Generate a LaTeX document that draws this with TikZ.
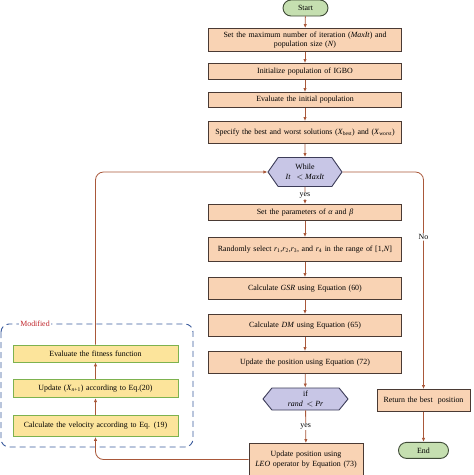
\documentclass[tikz,border=0pt]{standalone}
\usepackage{fontspec}
\setmainfont{Liberation Serif}
\usetikzlibrary{positioning, shapes.symbols, arrows.meta}
\definecolor{boxColor}{HTML}{F9D3B4}
\definecolor{boxBorder}{HTML}{4A3A34}
\definecolor{termColor}{HTML}{C5DFB0}
\definecolor{termBorder}{HTML}{3E4A36}
\definecolor{hexColor}{HTML}{C8C6E6}
\definecolor{hexBorder}{HTML}{3C3C58}
\definecolor{modColor}{HTML}{FCE49B}
\definecolor{modBorder}{HTML}{7DB24F}
\definecolor{arrowColor}{HTML}{A9583A}
\definecolor{dashColor}{HTML}{3A5A9C}
\definecolor{labelRed}{HTML}{C0262C}

\begin{document}
\begin{tikzpicture}[
    x=1pt, y=-1pt,
    every node/.style={font=\fontsize{7.9}{9.5}\selectfont},
    procbox/.style={
        rectangle,
        draw=boxBorder,
        fill=boxColor,
        line width=0.9pt,
        inner xsep=2pt,
        inner ysep=1pt,
        text width=189pt,
        align=center,
    },
    modbox/.style={
        rectangle,
        draw=modBorder,
        fill=modColor,
        line width=0.8pt,
        inner xsep=2pt,
        inner ysep=1pt,
        text width=161pt,
        align=center,
    },
    term/.style={
        rectangle,
        rounded corners=8pt,
        draw=termBorder,
        fill=termColor,
        line width=0.9pt,
        minimum height=16pt,
        inner sep=1pt,
    },
    hexbox/.style={
        signal,
        signal to=east and west,
        draw=hexBorder,
        fill=hexColor,
        line width=0.9pt,
        inner sep=1pt,
        align=center,
    },
    rel/.style={
        -{Latex[length=4pt, width=3.4pt]},
        line width=0.8pt,
        color=arrowColor,
    },
    lbl/.style={
        fill=white,
        text=black,
        inner sep=1pt,
    },
]

\useasboundingbox (0,0) rectangle (474,475);

% main column
\node[term, minimum width=45pt] (start) at (305.5,8) {Start};

\node[procbox, minimum height=23pt] (init) at (305,40) {
    Set the maximum number of iteration (\textit{MaxIt}) and\\
    population size (\textit{N})
};

\node[procbox, minimum height=16pt] (igbo) at (305,71.5) {
    Initialize population of IGBO
};

\node[procbox, minimum height=15pt] (evalinit) at (305,100) {
    Evaluate the initial population
};

\node[procbox, minimum height=22pt] (best) at (305,132.5) {
    Specify the best and worst solutions (\textit{X}\textsubscript{best}) and (\textit{X}\textsubscript{worst})
};

\node[hexbox, minimum width=74pt, minimum height=29pt, signal pointer angle=110] (while) at (305,172) {
    While\\
    \textit{It} \ \ $<$ \textit{MaxIt}
};

\node[procbox, minimum height=16pt] (params) at (305,212.5) {
    Set the parameters of \textit{α} and \textit{β}
};

\node[procbox, minimum height=24pt] (rand) at (305,249.5) {
    Randomly select \textit{r}\textsubscript{1},\textit{r}\textsubscript{2},\textit{r}\textsubscript{3}, and \textit{r}\textsubscript{4} in the range of [1,\textit{N}]
};

\node[procbox, minimum height=22pt] (gsr) at (305,288.5) {
    Calculate \textit{GSR} using Equation (60)
};

\node[procbox, minimum height=22pt] (dm) at (305,325.5) {
    Calculate \textit{DM} using Equation (65)
};

\node[procbox, minimum height=22pt] (update) at (305,362.5) {
    Update the position using Equation (72)
};

\node[hexbox, minimum width=85pt, minimum height=22pt, signal pointer angle=102] (ifpr) at (305.5,399) {
    if\\
    \textit{rand} \ $<$ \textit{Pr}
};

\node[procbox, text width=110pt, minimum height=32pt] (leo) at (306,459.5) {
    Update position using\\
    \textit{LEO} operator by Equation (73)
};

% exit column
\node[procbox, text width=89pt, minimum height=22pt] (ret) at (423.5,400.5) {
    Return the best \ position
};

\node[term, minimum width=50pt, below=30pt of ret] (end) {End};

% modified part
\draw[dashColor, line width=0.9pt, dash pattern=on 6pt off 4pt, rounded corners=8pt]
    (1,324) rectangle (193,447);
\node[lbl, text=labelRed] (modlabel) at (35,324) {Modified};

\node[modbox, minimum height=21pt] (velocity) at (95.5,426) {
    Calculate the velocity according to Eq. (19)
};

\node[modbox, minimum height=18pt, above=17pt of velocity] (updx) {
    Update (\textit{X}\textsubscript{\textit{n}+1}) according to Eq.(20)
};

\node[modbox, minimum height=17pt, above=17pt of updx] (fitness) {
    Evaluate the fitness function
};

% connectors
\draw[rel] (start) -- (init);
\draw[rel] (init) -- (igbo);
\draw[rel] (igbo) -- (evalinit);
\draw[rel] (evalinit) -- (best);
\draw[rel] (best) -- (while);
\draw[rel] (while) -- node[lbl] {yes} (params);
\draw[rel] (params) -- (rand);
\draw[rel] (rand) -- (gsr);
\draw[rel] (gsr) -- (dm);
\draw[rel] (dm) -- (update);
\draw[rel] (update) -- (ifpr);
\draw[rel] (ifpr) -- node[lbl] {yes} (leo);
\draw[rel, rounded corners=8pt] (leo.west) -| (velocity.south);
\draw[rel] (velocity) -- (updx);
\draw[rel] (updx) -- (fitness);
\draw[rel, rounded corners=8pt] (fitness.north) |- (while.west);
\draw[rel, rounded corners=8pt] (while.east) -| node[lbl, pos=0.65] {No} (ret.north);
\draw[rel] (ret) -- (end);

\end{tikzpicture}
\end{document}
